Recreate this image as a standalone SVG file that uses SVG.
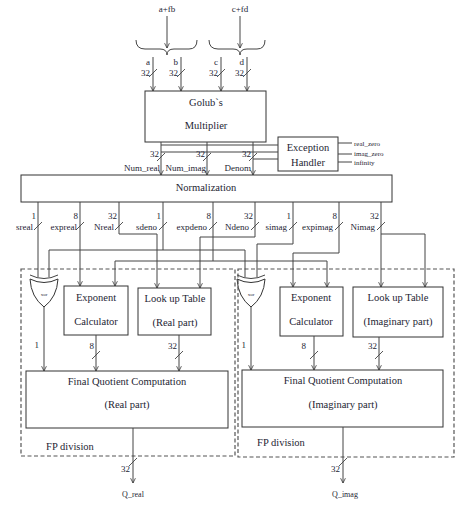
<svg xmlns="http://www.w3.org/2000/svg" width="474" height="518" viewBox="0 0 474 518">
<defs>
<marker id="ar" viewBox="0 0 10 10" refX="9" refY="5" markerWidth="6" markerHeight="6" orient="auto" markerUnits="userSpaceOnUse">
<path d="M1,1 L9,5 L1,9" fill="none" stroke="#333" stroke-width="1.3"/>
</marker>
</defs>
<style>
.b{fill:#fff;stroke:#333;stroke-width:1}
.l{fill:none;stroke:#444;stroke-width:1}
.a{fill:none;stroke:#444;stroke-width:1;marker-end:url(#ar)}
.d{fill:none;stroke:#555;stroke-width:1.2;stroke-dasharray:4,2.5}
.s{fill:none;stroke:#444;stroke-width:0.9}
text{font-family:"Liberation Serif","Times New Roman",serif;fill:#1e1e33}
.t{font-size:10.5px;text-anchor:middle}
.m{font-size:9px}
.sm{font-size:7px}
</style>
<rect width="474" height="518" fill="#fff"/>

<g id="inputs">
<text class="t" x="167" y="12" style="font-size:9px">a+fb</text>
<text class="t" x="240" y="12" style="font-size:9px">c+fd</text>
<path class="l" d="M136,40 Q136,49 145,49 L160,49 Q167,49 167,55 Q167,49 174,49 L189,49 Q197,49 197,40"/>
<path class="l" d="M209,40 Q209,49 218,49 L233,49 Q240,49 240,55 Q240,49 247,49 L257,49 Q265,49 265,40"/>
</g>

<g id="multiplier">
<rect class="b" x="145" y="91" width="121" height="51"/>
<text class="t" x="206" y="106">Golub`s</text>
<text class="t" x="206" y="129">Multiplier</text>
</g>

<g id="exception">
<rect class="b" x="278" y="137" width="60" height="34"/>
<text class="t" x="308" y="151">Exception</text>
<text class="t" x="308" y="166">Handler</text>
<text class="sm" x="354" y="146">real_zero</text>
<text class="sm" x="354" y="156">imag_zero</text>
<text class="sm" x="354" y="165">infinity</text>
</g>

<g id="normalization">
<rect class="b" x="21" y="175" width="371" height="27"/>
<text class="t" x="206" y="191">Normalization</text>
</g>

<g id="xor_real">
<path class="b" d="M30,279 Q44,286 58,279 Q57,297 44,307 Q31,297 30,279 Z"/>
<path class="l" d="M30,275 Q44,282 58,275"/>
<text class="sm" x="44" y="296" text-anchor="middle" style="font-size:5px">xor</text>
</g>
<g id="xor_imag">
<path class="b" d="M237,279 Q251,286 265,279 Q264,297 251,307 Q238,297 237,279 Z"/>
<path class="l" d="M237,275 Q251,282 265,275"/>
<text class="sm" x="251" y="296" text-anchor="middle" style="font-size:5px">xor</text>
</g>

<g id="exp_real">
<rect class="b" x="64" y="286" width="64" height="49"/>
<text class="t" x="96" y="301">Exponent</text>
<text class="t" x="96" y="325">Calculator</text>
</g>
<g id="lut_real">
<rect class="b" x="138" y="288" width="73" height="47"/>
<text class="t" x="175" y="302">Look up Table</text>
<text class="t" x="175" y="326">(Real part)</text>
</g>
<g id="exp_imag">
<rect class="b" x="280" y="287" width="63" height="49"/>
<text class="t" x="311" y="301">Exponent</text>
<text class="t" x="311" y="325">Calculator</text>
</g>
<g id="lut_imag">
<rect class="b" x="353" y="287" width="90" height="50"/>
<text class="t" x="398" y="301">Look up Table</text>
<text class="t" x="398" y="325">(Imaginary part)</text>
</g>

<g id="fq_real">
<rect class="b" x="26" y="371" width="202" height="57"/>
<text class="t" x="127" y="385">Final Quotient Computation</text>
<text class="t" x="127" y="408">(Real part)</text>
</g>
<g id="fq_imag">
<rect class="b" x="242" y="370" width="201" height="57"/>
<text class="t" x="343" y="384">Final Quotient Computation</text>
<text class="t" x="343" y="408">(Imaginary part)</text>
</g>

<g id="fp_real">
<rect class="d" x="21" y="269" width="214" height="187"/>
<text class="t" x="70" y="450">FP division</text>
</g>
<g id="fp_imag">
<rect class="d" x="238" y="269" width="216" height="188"/>
<text class="t" x="281" y="446">FP division</text>
</g>

<g id="connectors">
<path class="a" d="M167,16 V48"/>
<path class="a" d="M240,16 V48"/>
<path class="a" d="M153,57 V91"/>
<path class="a" d="M181,57 V91"/>
<path class="a" d="M221,57 V91"/>
<path class="a" d="M247,57 V91"/>
<path class="s" d="M149,77 L157,69 M177,77 L185,69 M217,77 L225,69 M243,77 L251,69"/>
<text class="m" x="150" y="65" text-anchor="end">a</text>
<text class="m" x="178" y="65" text-anchor="end">b</text>
<text class="m" x="218" y="65" text-anchor="end">c</text>
<text class="m" x="244" y="65" text-anchor="end">d</text>
<text class="m" x="150" y="76" text-anchor="end">32</text>
<text class="m" x="178" y="76" text-anchor="end">32</text>
<text class="m" x="218" y="76" text-anchor="end">32</text>
<text class="m" x="244" y="76" text-anchor="end">32</text>

<path class="a" d="M161,142 V175"/>
<path class="a" d="M207,142 V175"/>
<path class="a" d="M253,142 V175"/>
<path class="l" d="M161,145 H278 M161,152 H278 M253,159 H278"/>
<path class="l" d="M338,143 H352 M338,154 H352 M338,162 H352"/>
<path class="s" d="M157,161 L165,153 M203,161 L211,153 M249,161 L257,153"/>
<text class="m" x="159" y="157" text-anchor="end">32</text>
<text class="m" x="205" y="157" text-anchor="end">32</text>
<text class="m" x="251" y="157" text-anchor="end">32</text>
<text class="m" x="160" y="171" text-anchor="end">Num_real</text>
<text class="m" x="206" y="171" text-anchor="end">Num_imag</text>
<text class="m" x="251" y="171" text-anchor="end">Denom</text>

<path class="l" d="M38,202 V277"/>
<path class="a" d="M80,202 V286"/>
<path class="a" d="M119,202 V234 H157 V288"/>
<path class="l" d="M163,202 V250"/>
<path class="l" d="M49,277 V250 H245 V277"/>
<path class="l" d="M213,202 V261"/>
<path class="a" d="M115,261 V286"/>
<path class="a" d="M115,261 H327 V287"/>
<path class="a" d="M255,202 V237 H200 V288"/>
<path class="l" d="M293,202 V244 H257 V277"/>
<path class="a" d="M339,202 V253 H293 V287"/>
<path class="a" d="M381,202 V287"/>
<path class="a" d="M381,234 H425 V287"/>

<text class="m" x="36" y="219" text-anchor="end">1</text>
<text class="m" x="33" y="230" text-anchor="end">sreal</text>
<text class="m" x="78" y="219" text-anchor="end">8</text>
<text class="m" x="77" y="230" text-anchor="end">expreal</text>
<text class="m" x="117" y="219" text-anchor="end">32</text>
<text class="m" x="114" y="230" text-anchor="end">Nreal</text>
<text class="m" x="161" y="219" text-anchor="end">1</text>
<text class="m" x="157" y="230" text-anchor="end">sdeno</text>
<text class="m" x="211" y="219" text-anchor="end">8</text>
<text class="m" x="207" y="230" text-anchor="end">expdeno</text>
<text class="m" x="253" y="219" text-anchor="end">32</text>
<text class="m" x="249" y="230" text-anchor="end">Ndeno</text>
<text class="m" x="291" y="219" text-anchor="end">1</text>
<text class="m" x="287" y="230" text-anchor="end">simag</text>
<text class="m" x="337" y="219" text-anchor="end">8</text>
<text class="m" x="333" y="230" text-anchor="end">expimag</text>
<text class="m" x="379" y="219" text-anchor="end">32</text>
<text class="m" x="375" y="230" text-anchor="end">Nimag</text>
<path class="s" d="M34,230 L42,222 M76,230 L84,222 M115,230 L123,222 M159,230 L167,222 M209,230 L217,222 M251,230 L259,222 M289,230 L297,222 M335,230 L343,222 M377,230 L385,222"/>

<path class="a" d="M44,307 V371"/>
<text class="m" x="39" y="348" text-anchor="end">1</text>
<path class="a" d="M96,335 V371"/>
<path class="s" d="M92,359 L100,351"/>
<text class="m" x="94" y="349" text-anchor="end">8</text>
<path class="a" d="M179,335 V371"/>
<path class="s" d="M175,359 L183,351"/>
<text class="m" x="177" y="349" text-anchor="end">32</text>

<path class="a" d="M251,307 V370"/>
<text class="m" x="246" y="348" text-anchor="end">1</text>
<path class="a" d="M314,336 V370"/>
<path class="s" d="M310,359 L318,351"/>
<text class="m" x="306" y="349" text-anchor="end">8</text>
<path class="a" d="M379,337 V370"/>
<path class="s" d="M375,359 L383,351"/>
<text class="m" x="377" y="349" text-anchor="end">32</text>

<path class="a" d="M133,428 V483"/>
<path class="s" d="M129,466 L137,458"/>
<text class="m" x="130" y="472" text-anchor="end">32</text>
<text class="m" x="133" y="497" text-anchor="middle" style="font-size:8px">Q_real</text>
<path class="a" d="M343,427 V483"/>
<path class="s" d="M339,466 L347,458"/>
<text class="m" x="340" y="472" text-anchor="end">32</text>
<text class="m" x="345" y="497" text-anchor="middle" style="font-size:8px">Q_imag</text>
</g>
</svg>
